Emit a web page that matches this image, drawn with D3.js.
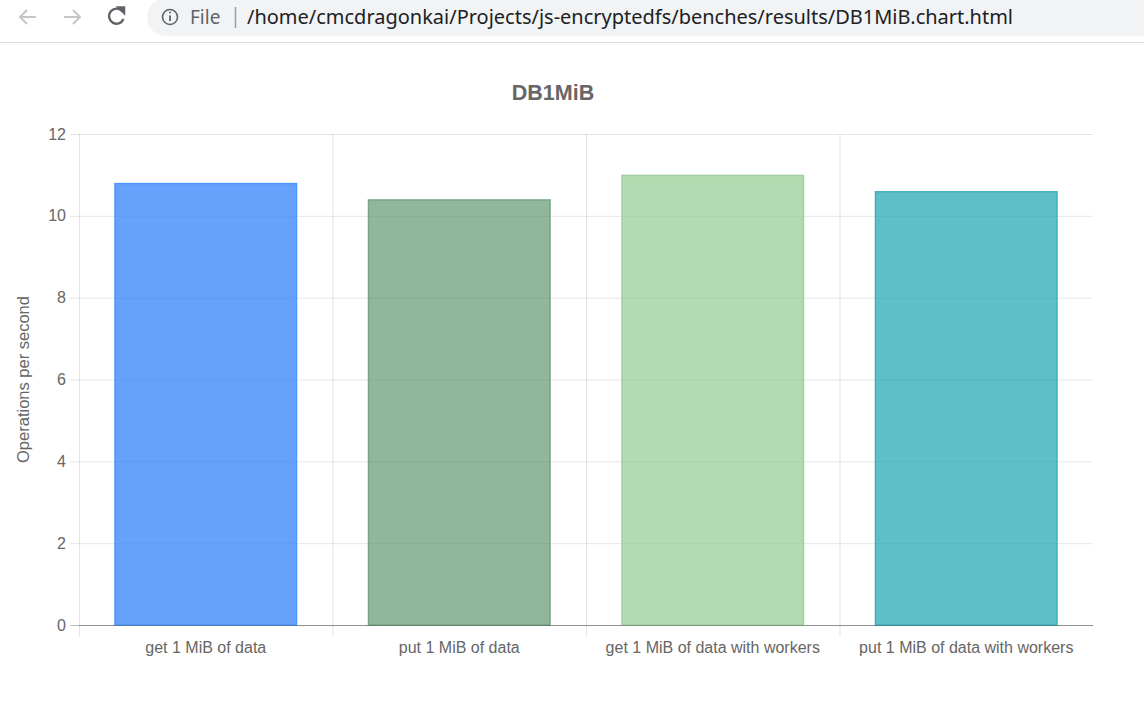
<!DOCTYPE html>
<html>
<head>
<meta charset="utf-8">
<script src="https://cdn.jsdelivr.net/npm/d3@7"></script>
<style>
  body { margin: 0; background: #fff; }
  svg { display: block; font-family: "Liberation Sans", Arial, Helvetica, sans-serif; }
</style>
</head>
<body>
<div id="chart"></div>
<script>
// data
var title = "DB1MiB";
var categories = ["get 1 MiB of data", "put 1 MiB of data", "get 1 MiB of data with workers", "put 1 MiB of data with workers"];
var opsPerSecond = [10.8, 10.4, 11.0, 10.6];
var fillColors = ["rgba(54,133,251,0.76)", "rgba(86,145,102,0.66)", "rgba(140,199,137,0.66)", "rgba(29,163,175,0.70)"];
var strokeColors = ["#4f95fb", "#77a585", "#a2cf9f", "#3fb0bc"];
var yTicks = [0, 2, 4, 6, 8, 10, 12];

var svgWidth = 1144;
var svgHeight = 725;

var svg = d3.select("#chart")
  .append("svg")
  .attr("width", svgWidth)
  .attr("height", svgHeight);

// browser chrome at top
var chrome = svg.append("g");
chrome.append("rect").attr("x", 0).attr("y", 0).attr("width", svgWidth).attr("height", 42).attr("fill", "#fff");
chrome.append("line").attr("x1", 0).attr("x2", svgWidth).attr("y1", 42.5).attr("y2", 42.5).attr("stroke", "#dadce0");
chrome.append("rect").attr("x", 147).attr("y", -2).attr("width", 1040).attr("height", 38).attr("rx", 19).attr("fill", "#f1f3f4");
// back / forward arrows
chrome.append("path").attr("d", "M36,17 H20 M27,10 L20,17 L27,24").attr("fill", "none").attr("stroke", "#c4c6c9").attr("stroke-width", 2);
chrome.append("path").attr("d", "M64,17 H80 M73,10 L80,17 L73,24").attr("fill", "none").attr("stroke", "#c4c6c9").attr("stroke-width", 2);
// reload
chrome.append("path").attr("d", "M122,11 A7.5,7.5 0 1 0 123.5,19").attr("fill", "none").attr("stroke", "#5f6368").attr("stroke-width", 2.4);
chrome.append("path").attr("d", "M117.5,7 L124.5,7 L124.5,14 Z").attr("fill", "#5f6368").attr("stroke", "#5f6368").attr("stroke-width", 1.5);
// info icon
chrome.append("circle").attr("cx", 170).attr("cy", 17).attr("r", 7.5).attr("fill", "none").attr("stroke", "#5f6368").attr("stroke-width", 1.6);
chrome.append("line").attr("x1", 170).attr("x2", 170).attr("y1", 15.5).attr("y2", 21).attr("stroke", "#5f6368").attr("stroke-width", 1.8);
chrome.append("circle").attr("cx", 170).attr("cy", 12.6).attr("r", 1).attr("fill", "#5f6368");
chrome.append("text").attr("x", 190).attr("y", 24).attr("font-family", "'Noto Sans', Roboto, sans-serif").attr("font-size", "19px").attr("fill", "#5f6368").text("File");
chrome.append("line").attr("x1", 235.5).attr("x2", 235.5).attr("y1", 7).attr("y2", 28).attr("stroke", "#9aa0a6").attr("stroke-width", 1.5);
chrome.append("text").attr("x", 247).attr("y", 24).attr("font-family", "'Noto Sans', Roboto, sans-serif").attr("font-size", "19px").attr("fill", "#202124")
  .attr("textLength", 766).attr("lengthAdjust", "spacingAndGlyphs")
  .text("/home/cmcdragonkai/Projects/js-encryptedfs/benches/results/DB1MiB.chart.html");

// chart area
var plotLeft = 79, plotRight = 1093, plotTop = 134, plotBottom = 625;

var yScale = d3.scaleLinear()
  .domain([0, 12])
  .range([plotBottom, plotTop]);

var xScale = d3.scaleBand()
  .domain(categories)
  .range([plotLeft, plotRight])
  .paddingInner(0.28)
  .paddingOuter(0.14);

var slotScale = d3.scaleBand()
  .domain(categories)
  .range([plotLeft, plotRight]);

// horizontal grid + ticks
var leftAxis = d3.axisLeft(yScale)
  .tickValues(yTicks)
  .tickSize(-(plotRight - plotLeft) - 9)
  .tickPadding(6);

var yAxisG = svg.append("g")
  .attr("transform", `translate(${plotLeft - 9}, 0)`)
  .call(leftAxis);
yAxisG.select(".domain").remove();
yAxisG.selectAll(".tick line")
  .attr("stroke", d => d === 0 ? "rgba(0,0,0,0.25)" : "rgba(0,0,0,0.1)");
yAxisG.selectAll(".tick text")
  .attr("fill", "#666")
  .attr("font-size", "16px")
  .attr("font-family", "Liberation Sans, Arial, sans-serif")
  .attr("x", -4);

// vertical grid lines at category boundaries (last one not drawn)
svg.append("g").selectAll("line")
  .data(categories)
  .enter()
  .append("line")
  .attr("x1", d => slotScale(d) + 0.5)
  .attr("x2", d => slotScale(d) + 0.5)
  .attr("y1", plotTop)
  .attr("y2", plotBottom + 12)
  .attr("stroke", "rgba(0,0,0,0.1)");

// bars
svg.append("g").selectAll("rect")
  .data(opsPerSecond)
  .enter()
  .append("rect")
  .attr("x", (d, i) => xScale(categories[i]) + 0.5)
  .attr("y", d => yScale(d) + 0.5)
  .attr("width", xScale.bandwidth() - 1)
  .attr("height", d => plotBottom - yScale(d) - 0.5)
  .attr("fill", (d, i) => fillColors[i])
  .attr("stroke", (d, i) => strokeColors[i])
  .attr("stroke-width", 1.5);

// x axis line
svg.append("line")
  .attr("x1", plotLeft).attr("x2", plotRight)
  .attr("y1", plotBottom + 0.5).attr("y2", plotBottom + 0.5)
  .attr("stroke", "rgba(0,0,0,0.25)");

// x labels
svg.append("g").selectAll("text")
  .data(categories)
  .enter()
  .append("text")
  .attr("x", d => slotScale(d) + slotScale.bandwidth() / 2)
  .attr("y", 653)
  .attr("text-anchor", "middle")
  .attr("font-size", "16px")
  .attr("fill", "#666")
  .text(d => d);

// title
svg.append("text")
  .attr("x", 553)
  .attr("y", 100)
  .attr("text-anchor", "middle")
  .attr("font-size", "21.5px")
  .attr("font-weight", "bold")
  .attr("fill", "#666")
  .text(title);

// y axis label
svg.append("text")
  .attr("transform", `translate(29, ${(plotTop + plotBottom) / 2}) rotate(-90)`)
  .attr("text-anchor", "middle")
  .attr("font-size", "16.5px")
  .attr("fill", "#666")
  .text("Operations per second");
</script>
</body>
</html>
